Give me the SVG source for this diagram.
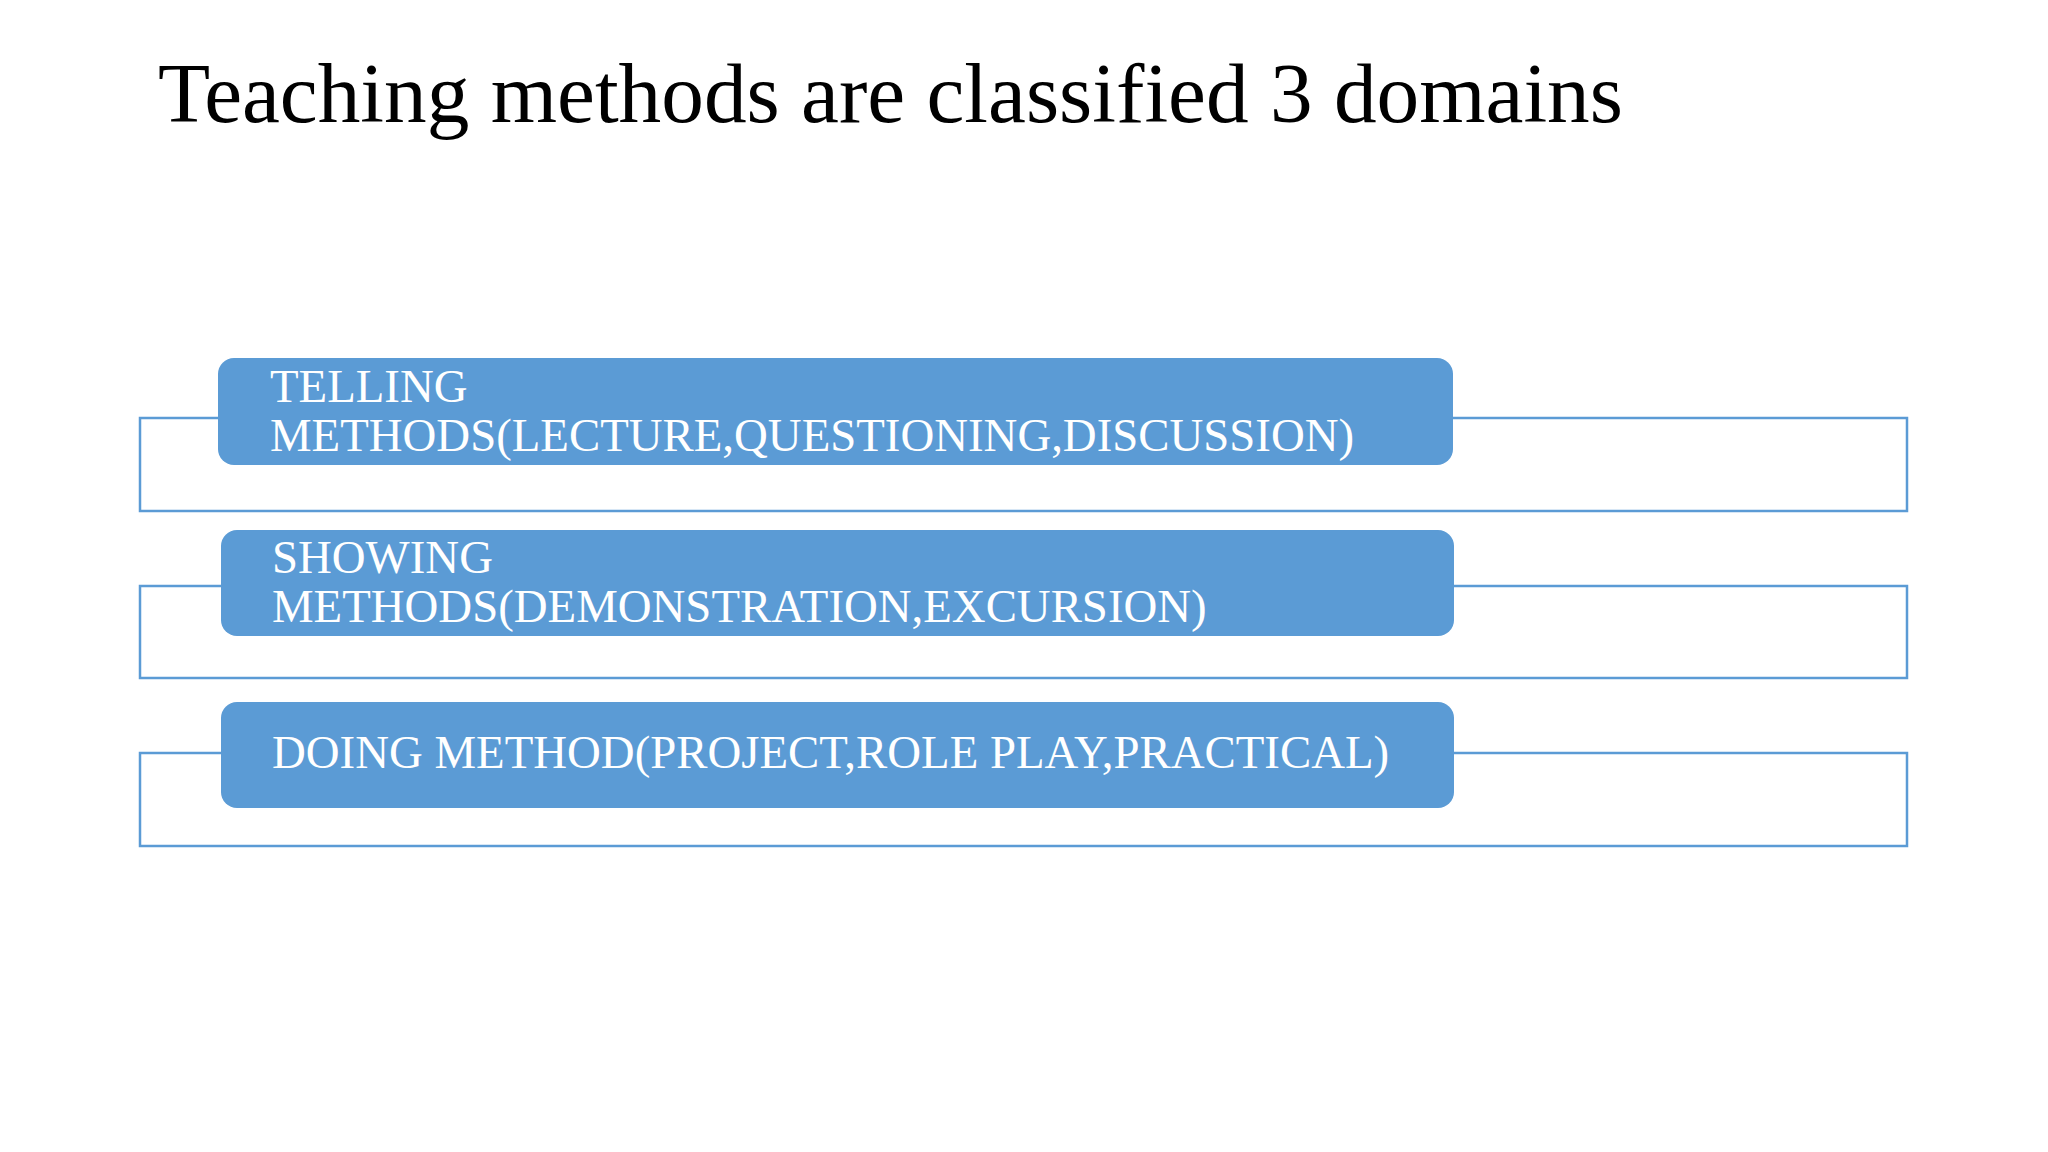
<svg xmlns="http://www.w3.org/2000/svg" width="2048" height="1152" viewBox="0 0 2048 1152">
<style>
.title{font-family:"Liberation Serif","Times New Roman",serif;font-size:85.3px;fill:#000}
.lbl{font-family:"Liberation Serif","Times New Roman",serif;font-size:46.8px;fill:#fff}
.box{fill:#5B9BD5}
.frame{fill:none;stroke:#5B9BD5;stroke-width:2.5}
</style>
<rect width="2048" height="1152" fill="#fff"/>
<text class="title" x="158" y="122">Teaching methods are classified 3 domains</text>
<g id="connectors">
<rect class="frame" x="140" y="418" width="1767" height="93"/>
<rect class="frame" x="140" y="586" width="1767" height="92"/>
<rect class="frame" x="140" y="753" width="1767" height="93"/>
</g>
<g id="node-telling">
<rect class="box" x="218" y="358" width="1235" height="107" rx="16"/>
<text class="lbl" x="270" y="402">TELLING</text>
<text class="lbl" x="270" y="451">METHODS(LECTURE,QUESTIONING,DISCUSSION)</text>
</g>
<g id="node-showing">
<rect class="box" x="221" y="530" width="1233" height="106" rx="16"/>
<text class="lbl" x="272" y="573">SHOWING</text>
<text class="lbl" x="272" y="622">METHODS(DEMONSTRATION,EXCURSION)</text>
</g>
<g id="node-doing">
<rect class="box" x="221" y="702" width="1233" height="106" rx="16"/>
<text class="lbl" x="272" y="768">DOING METHOD(PROJECT,ROLE PLAY,PRACTICAL)</text>
</g>
</svg>
